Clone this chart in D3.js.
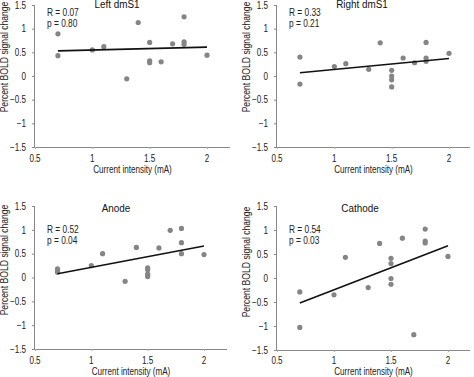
<!DOCTYPE html>
<html><head><meta charset="utf-8">
<script src="https://cdn.jsdelivr.net/npm/d3@7"></script>
<style>body{margin:0;background:#fff}svg{display:block;font-family:"Liberation Sans",Arial,sans-serif}</style>
</head><body>
<svg id="c" width="474" height="377"></svg>
<script>
const titles = ["Left dmS1", "Right dmS1", "Anode", "Cathode"];
const statR = ["R = 0.07", "R = 0.33", "R = 0.52", "R = 0.54"];
const statP = ["p = 0.80", "p = 0.21", "p = 0.04", "p = 0.03"];
const xTicks = [0.5, 1, 1.5, 2];
const yTicks = [-1.5, -1, -0.5, 0, 0.5, 1, 1.5];
const xLabel = "Current intensity (mA)";
const yLabel = "Percent BOLD signal change";

const leftX = [0.7,0.7,1.0,1.1,1.3,1.4,1.5,1.5,1.5,1.6,1.7,1.8,1.8,1.8,2.0];
const leftY = [0.89,0.43,0.55,0.62,-0.06,1.13,0.71,0.32,0.28,0.30,0.68,1.25,0.72,0.67,0.44];
const rightX = [0.7,0.7,1.0,1.1,1.3,1.4,1.5,1.5,1.5,1.5,1.6,1.7,1.8,1.8,1.8,2.0];
const rightY = [0.40,-0.17,0.20,0.26,0.14,0.70,0.12,0.0,-0.08,-0.23,0.38,0.28,0.71,0.38,0.31,0.48];
const anodeX = [0.7,0.7,0.7,1.0,1.1,1.3,1.4,1.5,1.5,1.5,1.5,1.6,1.7,1.8,1.8,1.8,2.0];
const anodeY = [0.18,0.15,0.11,0.25,0.50,-0.08,0.63,0.20,0.16,0.07,0.02,0.62,0.99,1.03,0.73,0.50,0.48];
const cathX = [0.7,0.7,1.0,1.1,1.3,1.4,1.5,1.5,1.5,1.5,1.6,1.7,1.8,1.8,1.8,2.0];
const cathY = [-0.29,-1.03,-0.35,0.43,-0.20,0.72,0.41,0.30,-0.01,-0.13,0.83,-1.18,1.02,0.77,0.73,0.45];
// fit line endpoints [x0,y0,x1,y1]
const fitLines = [[0.7,0.53,2.0,0.61],[0.7,0.07,2.0,0.37],[0.7,0.08,2.0,0.66],[0.7,-0.52,2.0,0.67]];
const seriesX = [leftX, rightX, anodeX, cathX];
const seriesY = [leftY, rightY, anodeY, cathY];

const layout = [
  {ax:35, x2:207, xEnd:230, yTop:5, yBot:147, titleY:8, statY:16, xTickY:162, xLabY:173, yLabX:8, yLabC:57},
  {ax:277, x2:449, xEnd:470, yTop:5, yBot:147, titleY:8, statY:16, xTickY:162, xLabY:173, yLabX:250, yLabC:57},
  {ax:35, x2:204, xEnd:227, yTop:206, yBot:349, titleY:212, statY:233, xTickY:364, xLabY:375, yLabX:8, yLabC:260},
  {ax:277, x2:448, xEnd:470, yTop:206, yBot:350, titleY:212, statY:233, xTickY:364, xLabY:375, yLabX:250, yLabC:262}
];
const titleCX = [117, 362, 116, 360];
const SX = 0.81;

const svg = d3.select("#c");
function txt(g, x, y, s, size, anchor, sx) {
  return g.append("text").attr("transform", `translate(${x},${y}) scale(${sx || SX},1)`)
    .attr("text-anchor", anchor || "start").attr("font-size", size).attr("fill", "#222").text(s);
}
layout.forEach((L, i) => {
  const x = d3.scaleLinear().domain([0.5, 2]).range([L.ax, L.x2]);
  const y = d3.scaleLinear().domain([-1.5, 1.5]).range([L.yBot, L.yTop]);
  const g = svg.append("g");
  // y axis
  const ya = g.append("g").attr("transform", `translate(${L.ax},0)`)
    .call(d3.axisLeft(y).tickValues(yTicks).tickSize(3).tickPadding(6).tickFormat(d3.format("")));
  ya.select(".domain").attr("stroke", "#888").attr("d", `M-0.5,${L.yTop}V${L.yBot}`);
  ya.selectAll(".tick line").attr("stroke", "#888");
  ya.selectAll("text").attr("font-size", 10).attr("fill", "#222")
    .attr("x", -9 / SX).attr("transform", `scale(${SX},1)`);
  // x axis
  const xa = g.append("g").attr("transform", `translate(0,${L.yBot})`)
    .call(d3.axisBottom(x).tickValues(xTicks).tickSize(2).tickFormat(""));
  xa.select(".domain").attr("stroke", "#888").attr("d", `M${L.ax},0.5H${L.xEnd}`);
  xa.selectAll(".tick line").attr("stroke", "#aaa");
  xTicks.forEach(d => txt(g, x(d), L.xTickY, d, 10, "middle"));
  // labels
  txt(g, (L.ax + L.xEnd) / 2, L.xLabY, xLabel, 10, "middle");
  g.append("text").attr("transform", `translate(${L.yLabX},${L.yLabC}) rotate(-90) scale(0.86,1)`)
    .attr("text-anchor", "middle").attr("font-size", 10).attr("fill", "#222").text(yLabel);
  txt(g, titleCX[i], L.titleY, titles[i], 11.5, "middle", 0.86).attr("fill", "#111");
  txt(g, L.ax + 12, L.statY, statR[i], 10.3);
  txt(g, L.ax + 12, L.statY + 10.5, statP[i], 10.3);
  // points
  const xs = seriesX[i], ys = seriesY[i];
  g.selectAll(".pt").data(xs.map((d, k) => [d, ys[k]])).enter().append("circle")
    .attr("cx", d => x(d[0])).attr("cy", d => y(d[1])).attr("r", 2.6).attr("fill", "#858585");
  // fit line
  const f = fitLines[i];
  g.append("line").attr("x1", x(f[0])).attr("y1", y(f[1])).attr("x2", x(f[2])).attr("y2", y(f[3]))
    .attr("stroke", "#111").attr("stroke-width", 1.6);
});
</script>
</body></html>
